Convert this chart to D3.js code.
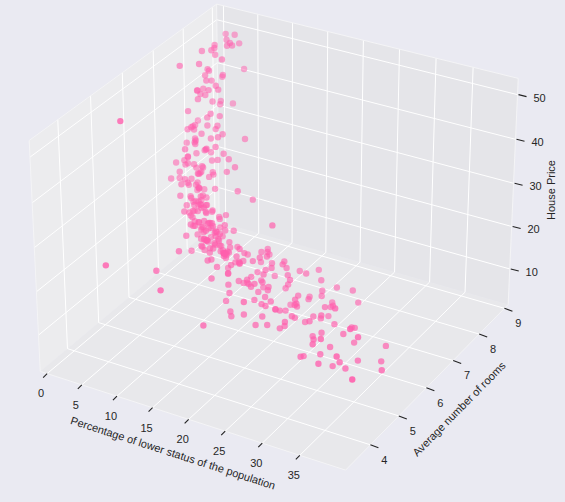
<!DOCTYPE html>
<html>
<head>
<meta charset="utf-8">
<script src="https://d3js.org/d3.v7.min.js"></script>
<style>
body { margin: 0; background: #eaeaf2; }
text { font-family: "Liberation Sans", Arial, sans-serif; fill: #262626; }
</style>
</head>
<body>
<script>
// Boston housing: LSTAT, RM, MEDV (approximate)
var lstat = [4.98,2.94,5.33,4.03,2.88,3.11,1.98,3.16,4.45,2.47,
  3.53,5.04,2.96,1.73,3.32,4.14,5.12,3.76,6.05,2.87,
  3.26,7.12,13.33,5.99,2.97,4.56,7.79,5.29,6.72,4.21,
  9.14,4.03,5.21,12.43,19.15,29.93,17.1,20.45,13.27,15.71,
  8.26,10.26,8.47,6.58,14.67,11.69,11.28,21.02,13.83,18.72,
  19.88,16.3,16.51,14.81,17.28,12.8,11.98,22.6,13,27.71,
  18.35,20.34,9.68,11.41,8.77,10.13,4.32,1.98,4.84,5.81,
  7.44,9.55,10.21,14.15,18.8,30.81,16.2,13.45,9.43,5.28,
  8.43,14.8,4.81,5.77,3.95,6.86,9.22,13.15,14.44,6.73,
  9.5,8.05,4.67,10.24,8.1,13.09,8.79,6.72,9.88,5.52,
  7.54,6.78,8.94,11.97,10.27,12.34,9.1,5.29,7.22,6.72,
  18.06,23.98,21.14,29.29,26.82,24.16,17.09,21.08,23.27,17.27,
  19.37,34.41,26.64,20.85,30.59,28.28,22.11,34.37,23.69,34.02,
  36.98,29.05,25.79,37.97,26.77,29.68,21.52,24.39,31.99,30.62,
  22.74,20.32,19.31,18.13,16.14,23.6,17.44,25.68,23.09,20.31,
  7.39,6.87,7.67,9.59,8.51,5.98,6.19,6.92,8.23,7.73,
  10.5,11.22,12.26,10.97,11.64,9.8,12.6,11.1,10.45,12.92,
  3.57,4.59,3.54,4.69,5.49,4.08,3.33,2.6,4.38,4.74,
  5.5,5.9,6.36,3.92,4.6,7.18,5.68,3.01,4.45,3.13,
  12.03,13.98,11.45,15.03,15.17,16.9,14.1,13.61,15.39,12.12,
  2.96,3.81,3.7,2.98,8.2,5.7,10.74,8.58,3.53,7.6,
  7.01,6.27,9.42,4.7,6.43,2.88,3.76,9.16,5.91,7.37,
  15.79,18.46,20.08,24.1,27.38,22.98,19.78,17.93,25.41,30.63,
  21.22,14.64,20.62,16.35,23.34,18.14,16.74,22.88,13.35,19.52,
  6.48,7.56,9.04,9.64,8.88,10.4,12.01,11.34,7.83,5.49,
  9.69,10.56,13.44,11.72,15.55,12.67,14.27,13.11,10.87,8.88,
  4.74,5.68,3.59,4.85,6.21,6.48,3.16,2.42,5.1,7.85,
  18.68,17.58,19.69,16.59,21.45,16.96,15.12,18.07,22.54,16.42,
  25.79,26.42,28.32,24.56,23.79,27.8,26.45,31.42,24.91,29.97,
  32.44,33.2,35.2,28.6,30.2,27.6,25.2,34.8,22.5,26.1,
  2.87,3.92,1.92,3.45,2.06,4.5,3.01,2.7,3.84,5.2,
  17.6,18.9,16.4,20.9,15.8,21.9,19.1,14.2,17.9,23.2,
  11.07,12.7,8.65,7.09,10.85,9.04,6.93,5.68,8.71,12.8,
  4.16,5.39,6.92,9.45,8.34,11.66,7.26,6.15,10.29,13.51,
  9.84,16.96,20.45,10.3];
var rm = [7.18,7.15,7.82,8.07,8.04,7.85,7.93,8.78,8.38,8.25,
  7.47,8.25,7.52,7.24,8.30,8.70,7.65,7.61,7.41,7.82,
  4.97,3.56,3.86,7.01,7.36,6.72,6.99,7.27,6.78,7.02,
  6.42,7.18,6.43,6.01,6.17,5.63,6.00,6.38,6.01,5.89,
  6.38,6.00,6.19,6.67,5.99,6.15,6.27,5.47,5.81,5.93,
  5.83,5.71,5.95,6.10,5.81,6.05,5.93,5.57,6.14,5.72,
  6.05,5.50,6.35,6.34,6.47,6.03,6.86,7.76,6.76,6.59,
  6.16,6.14,5.94,5.82,5.64,4.91,5.77,5.88,6.43,6.98,
  6.11,6.00,7.02,6.62,6.95,6.42,6.13,5.99,5.80,6.73,
  6.25,6.33,7.08,6.13,6.14,6.05,6.24,6.50,6.14,6.82,
  6.70,6.72,6.27,5.89,6.00,5.87,6.41,7.00,6.60,6.79,
  5.70,5.40,5.62,5.02,5.65,5.75,6.16,5.79,5.93,5.76,
  5.86,5.27,5.98,5.40,5.39,5.31,5.89,5.00,5.81,4.63,
  5.45,5.35,6.47,4.14,5.35,5.53,5.69,6.00,5.27,5.75,
  5.70,6.51,6.10,6.23,5.91,6.32,6.20,6.63,5.97,6.34,
  6.55,6.47,6.50,6.42,6.22,6.79,6.80,6.60,6.30,6.38,
  6.02,5.96,6.09,6.18,5.85,6.31,5.99,6.19,6.25,6.21,
  7.27,7.09,7.41,6.98,7.16,7.14,7.45,7.29,7.52,7.88,
  7.37,6.94,7.20,7.21,7.47,7.05,7.33,7.92,7.69,7.69,
  5.68,5.79,6.10,5.76,6.14,5.99,5.51,6.07,5.57,6.25,
  6.78,6.98,6.72,6.60,6.86,6.95,6.62,6.49,6.96,6.93,
  7.24,7.42,7.61,7.83,6.54,7.20,7.65,7.11,7.10,6.86,
  5.40,5.85,6.43,5.61,5.09,6.11,5.88,6.55,6.03,4.88,
  6.20,6.42,6.76,6.46,5.98,6.18,6.66,6.54,6.38,6.49,
  6.43,6.24,6.57,6.65,6.38,6.49,6.29,6.16,6.56,6.85,
  5.70,5.98,6.02,6.12,5.90,6.42,5.87,5.94,6.39,6.59,
  6.66,6.53,6.75,6.85,6.93,6.72,7.01,7.56,6.96,6.65,
  5.98,6.12,6.39,6.42,6.21,6.54,6.19,6.42,6.50,6.68,
  5.80,6.18,6.03,6.56,6.72,5.71,6.38,5.93,6.45,6.22,
  5.36,5.60,5.91,6.81,6.27,6.87,6.92,6.18,6.96,6.55,
  8.17,8.33,8.37,7.90,8.73,8.04,8.53,7.69,8.45,8.61,
  5.11,5.25,5.37,5.16,5.48,5.31,5.56,5.30,5.07,5.42,
  5.71,5.53,5.93,6.08,5.85,5.98,6.20,6.28,5.76,5.63,
  7.63,7.40,7.28,6.97,7.13,6.81,7.36,7.53,7.05,6.88,
  4.52,4.37,4.88,5.15];
var medv = [36.2,33.4,50,38.7,50,46.7,50,50,50,50,
  50,37.6,43.5,50,42.8,48.8,44.8,42.3,36.5,45.4,
  50,27.5,23.1,24.7,36.1,34.9,35.4,32.4,31.6,38.2,
  21.6,34.7,28.7,22.9,27.1,16.5,18.9,15,18.9,21.7,
  20.4,18.2,19.9,23.1,17.5,20.2,18.2,13.6,19.6,15.2,
  14.5,15.6,13.9,16.6,14.8,18.4,21,12.7,14.5,13.2,
  13.1,13.5,18.9,20,21,24.7,30.8,34.9,26.6,25.3,
  24.7,21.2,19.3,20,16.6,14.4,19.4,19.7,20.5,25,
  23.4,18.9,35.4,24.7,31.6,23.3,19.6,18.7,16,22.2,
  25,33,23.5,19.4,22,17.4,20.9,24.2,21.7,22.8,
  23.4,24.1,21.4,20,20.8,21.2,20.3,28,23.9,24.8,
  15.2,11.8,13.8,11.7,8.4,14,15.4,10.9,13.4,16.1,
  12.5,14.4,10.4,11.5,5,10.5,10.5,17.9,13.1,13.8,
  7,7.2,7.5,13.8,5.6,8.1,11.7,8.3,7.4,10.2,
  8.4,7.2,17.8,19.1,13.9,11.3,13.4,9.7,8.8,12.1,
  24.4,23.1,26.6,21.7,22.6,27.5,26.2,24.5,22,23.9,
  20.5,19.3,19.6,21.5,19.1,22.5,19.1,21.8,22.4,20.1,
  33.1,32,42.3,30.1,32.7,37,44,39.8,37.9,39.2,
  31.1,29.1,30.5,33.2,36.4,28.4,34.6,46,40.7,43.1,
  23.2,20.4,21.4,18.4,17.2,15.2,19,20,17.7,23.4,
  30.8,31.5,27.9,28.1,26.6,28.7,23,25.1,29.6,29.8,
  30.7,37.3,34.6,42.8,24.6,36.2,45.4,32.5,33.4,29,
  12.6,13.3,16.2,11.9,7.4,13.1,14.9,12.6,9.9,8.8,
  14.3,16.8,13.8,15.6,11.5,16.3,16.4,10.2,18.2,17.1,
  22,23.2,23.6,21.9,24.3,22.7,21.9,22,23.8,26.4,
  19.5,20.6,19.3,20.7,18.6,21.4,20.3,19.9,21.5,23.1,
  28.4,28.7,29.1,27.5,30.3,26.7,30.2,35.1,29.6,25.6,
  16.7,19.2,17.1,18.3,15.4,17.8,18.7,16.4,15.7,17.4,
  10.4,11.7,9.6,12.3,13.4,9.3,10.5,7.5,11.9,8.5,
  5.6,6.3,5.2,10,8.2,12,11.2,6.9,13.8,9.6,
  48.3,50,48.5,44,50,45,50,41.7,50,43.8,
  12.8,11.9,14.9,11,15.9,10.6,13.5,17.6,12.1,9.8,
  21.3,19.7,23.8,25.2,21.8,23.4,25.9,27.1,22.2,19.4,
  43.5,39.8,35.7,30.5,33.3,27.9,36.1,38.9,31.5,26.4,
  21.9,13.8,17.8,22.9];

var xTicks = [0, 5, 10, 15, 20, 25, 30, 35];
var yTicks = [4, 5, 6, 7, 8, 9];
var zTicks = [10, 20, 30, 40, 50];

var W = 565, H = 502;
var xDom = [-1.0, 41.0], yDom = [3.15, 9.15], zDom = [1.5, 53.6];
var su = d3.scaleLinear().domain(xDom).range([0, 1]);
var sv = d3.scaleLinear().domain(yDom).range([0, 1]);
var sw = d3.scaleLinear().domain(zDom).range([0, 1]);

// projective camera fitted to the box corners seen in the picture
var corners = [[0,0,0,40,371],[1,0,0,346,470],[1,1,0,508,305],[1,1,1,518,78],[0,1,1,217,4],[0,0,1,29,141]];
function lstsq(A, b) {
  var n = A[0].length, M = [];
  for (var i = 0; i < n; i++) {
    M.push([]);
    for (var j = 0; j < n; j++) M[i].push(d3.sum(A, function(r) { return r[i] * r[j]; }));
    M[i].push(d3.sum(A, function(r, k) { return r[i] * b[k]; }));
  }
  for (var c = 0; c < n; c++) {
    var piv = c;
    for (var r = c + 1; r < n; r++) if (Math.abs(M[r][c]) > Math.abs(M[piv][c])) piv = r;
    var t = M[c]; M[c] = M[piv]; M[piv] = t;
    for (var r2 = 0; r2 < n; r2++) if (r2 !== c) {
      var f = M[r2][c] / M[c][c];
      for (var k = c; k <= n; k++) M[r2][k] -= f * M[c][k];
    }
  }
  return M.map(function(r, i) { return r[n] / r[i]; });
}
var A = [], bb = [];
corners.forEach(function(c) {
  var X = c[0], Y = c[1], Z = c[2], px = c[3], py = c[4];
  A.push([X, Y, Z, 1, 0, 0, 0, 0, -px*X, -px*Y, -px*Z]); bb.push(px);
  A.push([0, 0, 0, 0, X, Y, Z, 1, -py*X, -py*Y, -py*Z]); bb.push(py);
});
var P = lstsq(A, bb);
function proj(x, y, z) {
  var X = su(x), Y = sv(y), Z = sw(z);
  var d = P[8]*X + P[9]*Y + P[10]*Z + 1;
  // depth along view: far = small x, large y, small z
  var depth = -0.5*X + 0.87*Y - 0.5*Z;
  return [(P[0]*X + P[1]*Y + P[2]*Z + P[3]) / d, (P[4]*X + P[5]*Y + P[6]*Z + P[7]) / d, depth];
}

var svg = d3.select("body").append("svg").attr("width", W).attr("height", H);
var line = d3.line();
function poly(pts, fill) {
  svg.append("path").attr("d", line(pts.map(function(p) { return proj(p[0], p[1], p[2]); })) + "Z")
    .attr("fill", fill).attr("stroke", "none");
}
function seg(a, b, col, w) {
  var p = proj(a[0], a[1], a[2]), q = proj(b[0], b[1], b[2]);
  svg.append("line").attr("x1", p[0]).attr("y1", p[1]).attr("x2", q[0]).attr("y2", q[1])
    .attr("stroke", col).attr("stroke-width", w);
}
var x0 = xDom[0], x1 = xDom[1], y0 = yDom[0], y1 = yDom[1], z0 = zDom[0], z1 = zDom[1];

// panes
poly([[x0,y0,z0],[x1,y0,z0],[x1,y1,z0],[x0,y1,z0]], "#e8e8eb");
poly([[x0,y0,z0],[x0,y1,z0],[x0,y1,z1],[x0,y0,z1]], "#ececee");
poly([[x0,y1,z0],[x1,y1,z0],[x1,y1,z1],[x0,y1,z1]], "#e5e5e9");

// grid
xTicks.forEach(function(t) {
  seg([t,y0,z0],[t,y1,z0],"#fff",1);
  seg([t,y1,z0],[t,y1,z1],"#fff",1);
});
yTicks.forEach(function(t) {
  seg([x0,t,z0],[x1,t,z0],"#fff",1);
  seg([x0,t,z0],[x0,t,z1],"#fff",1);
});
zTicks.forEach(function(t) {
  seg([x0,y0,t],[x0,y1,t],"#fff",1);
  seg([x0,y1,t],[x1,y1,t],"#fff",1);
});
// pane edges
[[[x0,y0,z0],[x1,y0,z0]],[[x1,y0,z0],[x1,y1,z0]],[[x0,y0,z0],[x0,y0,z1]],[[x1,y1,z0],[x1,y1,z1]],
 [[x0,y0,z1],[x0,y1,z1]],[[x0,y1,z1],[x1,y1,z1]],[[x0,y1,z0],[x0,y1,z1]]].forEach(function(e) { seg(e[0], e[1], "#f4f4f6", 1); });

// ticks and labels (screen offsets from the projected axis point)
function tick(p, dx1, dy1, dx2, dy2) {
  svg.append("line").attr("x1", p[0] + dx1).attr("y1", p[1] + dy1)
    .attr("x2", p[0] + dx2).attr("y2", p[1] + dy2).attr("stroke", "#222").attr("stroke-width", 1.1);
}
function lab(p, ox, oy, t) {
  svg.append("text").attr("x", p[0] + ox).attr("y", p[1] + oy).attr("text-anchor", "middle")
    .attr("dy", "0.35em").attr("font-size", 11).text(t);
}
xTicks.forEach(function(t) {
  var p = proj(t, y0, z0);
  tick(p, 0, 0, -4, 4);
  lab(p, -6, 20, t);
});
yTicks.forEach(function(t) {
  var p = proj(x1, t, z0);
  tick(p, 0, 0, 8, 3);
  lab(p, 14, 15, t);
});
zTicks.forEach(function(t) {
  var p = proj(x1, y1, t);
  tick(p, 1, 0, 9, 2);
  lab(p, 22, 3, t);
});

// axis titles
function angleOf(a, b) {
  var p = proj(a[0], a[1], a[2]), q = proj(b[0], b[1], b[2]);
  return Math.atan2(q[1] - p[1], q[0] - p[0]) * 180 / Math.PI;
}
var xa = angleOf([x0,y0,z0],[x1,y0,z0]);
svg.append("text").attr("transform", "translate(173,453) rotate(" + xa + ")")
  .attr("text-anchor", "middle").attr("dy", "0.35em").attr("font-size", 11)
  .text("Percentage of lower status of the population");
var ya = angleOf([x1,y0,z0],[x1,y1,z0]);
svg.append("text").attr("transform", "translate(459,409) rotate(" + ya + ")")
  .attr("text-anchor", "middle").attr("dy", "0.35em").attr("font-size", 11)
  .text("Average number of rooms");
svg.append("text").attr("transform", "translate(551,190) rotate(-90)")
  .attr("text-anchor", "middle").attr("dy", "0.35em").attr("font-size", 11)
  .text("House Price");

// points, depth shaded, far first
var pts = lstat.map(function(d, i) { return proj(d, rm[i], medv[i]); });
var dExt = d3.extent(pts, function(p) { return p[2]; });
var alpha = d3.scaleLinear().domain(dExt).range([0.9, 0.5]);
pts.sort(function(a, b) { return b[2] - a[2]; });
svg.selectAll("circle.pt").data(pts).enter().append("circle")
  .attr("class", "pt")
  .attr("cx", function(p) { return p[0]; })
  .attr("cy", function(p) { return p[1]; })
  .attr("r", 3.2)
  .attr("fill", "#ff5fad")
  .attr("fill-opacity", function(p) { return alpha(p[2]); });
</script>
</body>
</html>
